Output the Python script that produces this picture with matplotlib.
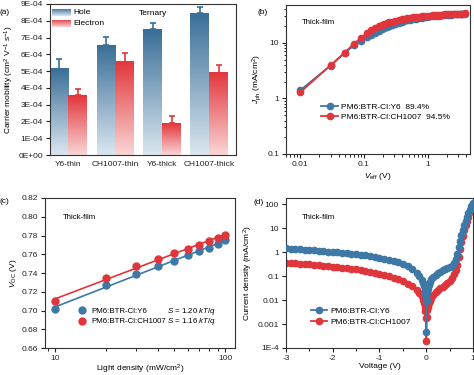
import numpy as np
import matplotlib
matplotlib.use("Agg")
import matplotlib.pyplot as plt
from matplotlib.colors import LinearSegmentedColormap

plt.rcParams['font.family'] = ['Liberation Sans', 'DejaVu Sans']
plt.rcParams['font.size'] = 6
plt.rcParams['mathtext.fontset'] = 'custom'
plt.rcParams['mathtext.rm'] = 'Liberation Sans'
plt.rcParams['mathtext.it'] = 'Liberation Sans:italic'
plt.rcParams['axes.linewidth'] = 0.8

BLUE = '#3d78a6'
RED = '#e0353b'
FS = 6

# ---------------- data ----------------
# (a)
categories = ['Y6-thin', 'CH1007-thin', 'Y6-thick', 'CH1007-thick']
hole = [5.15e-4, 6.55e-4, 7.5e-4, 8.45e-4]
hole_err = [0.55e-4, 0.5e-4, 0.35e-4, 0.35e-4]
electron = [3.55e-4, 5.55e-4, 1.9e-4, 4.9e-4]
electron_err = [0.4e-4, 0.5e-4, 0.42e-4, 0.45e-4]
a_yticks = [0, 1e-4, 2e-4, 3e-4, 4e-4, 5e-4, 6e-4, 7e-4, 8e-4, 9e-4]
a_yticklabels = ['0E+00', '1E-04', '2E-04', '3E-04', '4E-04', '5E-04', '6E-04', '7E-04', '8E-04', '9E-04']

# (b)
veff = [0.01, 0.03, 0.05, 0.07, 0.09, 0.11, 0.13, 0.15, 0.17, 0.19, 0.21, 0.23, 0.25, 0.28,
        0.31, 0.35, 0.39, 0.43, 0.48, 0.53, 0.59, 0.65, 0.72, 0.8, 0.89, 0.99, 1.1, 1.22,
        1.35, 1.5, 1.67, 1.85, 2.05, 2.3, 2.55, 2.85, 3.15, 3.5, 3.9]
jph_y6 = [1.4, 3.9, 6.6, 9.0, 10.8, 12.5, 14.0, 15.3, 16.4, 17.4, 18.3, 19.1, 19.8, 20.8,
          21.7, 22.8, 23.7, 24.5, 25.3, 26.0, 26.7, 27.3, 27.9, 28.5, 29.0, 29.5, 29.9, 30.3,
          30.6, 31.0, 31.3, 31.6, 31.9, 32.2, 32.5, 32.8, 33.0, 33.3, 33.5]
jph_ch = [1.28, 3.95, 6.7, 9.7, 12.3, 15.0, 17.0, 18.5, 19.8, 20.9, 21.8, 22.6, 23.3, 24.2,
          25.0, 25.9, 26.6, 27.2, 27.8, 28.3, 28.8, 29.2, 29.6, 30.0, 30.4, 30.7, 31.0, 31.3,
          31.6, 31.9, 32.2, 32.4, 32.6, 32.9, 33.1, 33.3, 33.5, 33.7, 33.9]

# (c)
light = [10, 20, 30, 40, 50, 60, 70, 80, 90, 100]
voc_y6 = [0.702, 0.727, 0.739, 0.747, 0.753, 0.759, 0.763, 0.767, 0.771, 0.775]
voc_ch = [0.710, 0.735, 0.747, 0.755, 0.761, 0.766, 0.770, 0.774, 0.777, 0.781]

# (d)
volt = [-3.0, -2.9, -2.8, -2.7, -2.6, -2.5, -2.4, -2.3, -2.2, -2.1, -2.0, -1.9, -1.8, -1.7,
        -1.6, -1.5, -1.4, -1.3, -1.2, -1.1, -1.0, -0.9, -0.8, -0.7, -0.6, -0.5, -0.4, -0.3,
        -0.2, -0.15, -0.1, -0.07, -0.05, -0.03, -0.02, -0.01, 0.0, 0.01, 0.02, 0.03, 0.05,
        0.07, 0.1, 0.15, 0.2, 0.25, 0.3, 0.35, 0.4, 0.45, 0.5, 0.55, 0.6, 0.63, 0.66, 0.69,
        0.72, 0.75, 0.78, 0.81, 0.84, 0.87, 0.9, 0.93, 0.96, 0.99]
jd_y6 = [1.40, 1.36, 1.32, 1.28, 1.24, 1.20, 1.16, 1.12, 1.08, 1.04, 1.00, 0.96, 0.92, 0.88,
         0.84, 0.80, 0.76, 0.72, 0.68, 0.63, 0.58, 0.53, 0.48, 0.43, 0.37, 0.31, 0.25, 0.19,
         0.13, 0.10, 0.07, 0.05, 0.038, 0.026, 0.018, 0.009, 0.00045, 0.010, 0.020, 0.029, 0.042,
         0.055, 0.072, 0.095, 0.115, 0.135, 0.15, 0.17, 0.19, 0.21, 0.235, 0.27, 0.36, 0.5, 0.85, 1.6,
         3.0, 5.2, 8.5, 13, 20, 29, 41, 58, 82, 115]
jd_ch = [0.36, 0.35, 0.34, 0.33, 0.32, 0.31, 0.295, 0.28, 0.265, 0.25, 0.24, 0.23, 0.22, 0.21,
         0.20, 0.19, 0.18, 0.165, 0.15, 0.135, 0.12, 0.108, 0.096, 0.084, 0.072, 0.06, 0.048, 0.037,
         0.026, 0.02, 0.014, 0.01, 0.0075, 0.005, 0.0035, 0.0018, 0.0002, 0.002, 0.0038, 0.0052, 0.0075,
         0.0095, 0.012, 0.016, 0.021, 0.026, 0.031, 0.036, 0.043, 0.052, 0.063, 0.08, 0.12, 0.18, 0.3, 0.6,
         1.3, 2.6, 4.8, 8.0, 13, 20, 30, 45, 68, 100]

# ---------------- figure ----------------
W, H = 474, 375
fig = plt.figure(figsize=(W / 100, H / 100), dpi=100)


def ax_px(l, t, r, b):
    return fig.add_axes([l / W, 1 - b / H, (r - l) / W, (b - t) / H])


def style(ax):
    for s in ax.spines.values():
        s.set_color('#333333')
        s.set_linewidth(0.8)
    ax.tick_params(direction='out', length=3, width=0.8, labelsize=FS, pad=2, colors='#222222')
    ax.tick_params(which='minor', length=1.8, width=0.6)


# ---- (a) ----
axa = ax_px(50, 4, 236, 155)
style(axa)
cmap_h = LinearSegmentedColormap.from_list('h', ['#dbe7f0', '#3a6e97'])
cmap_e = LinearSegmentedColormap.from_list('e', ['#fad6d6', '#e2363c'])
grad = np.linspace(0, 1, 256).reshape(-1, 1)
x = np.arange(len(categories))
bw = 0.4
bh = axa.bar(x - bw / 2, hole, bw, color='none', edgecolor='none')
be = axa.bar(x + bw / 2, electron, bw, color='none', edgecolor='none')
for bars, cm in ((bh, cmap_h), (be, cmap_e)):
    for p in bars:
        x0, y0 = p.get_x(), p.get_y()
        axa.imshow(grad, extent=[x0, x0 + p.get_width(), y0, y0 + p.get_height()],
                   origin='lower', aspect='auto', cmap=cm, zorder=2)
axa.errorbar(x - bw / 2, hole, yerr=[np.zeros(4), hole_err], fmt='none', ecolor='#3a6e97',
             elinewidth=1.2, capsize=2.5, capthick=1.2, zorder=1)
axa.errorbar(x + bw / 2, electron, yerr=[np.zeros(4), electron_err], fmt='none', ecolor='#e2363c',
             elinewidth=1.2, capsize=2.5, capthick=1.2, zorder=1)
axa.set_xlim(-0.39, 3.57)
axa.set_ylim(0, 9e-4)
axa.set_yticks(a_yticks)
axa.set_yticklabels(a_yticklabels)
axa.set_xticks(x)
axa.set_xticklabels(categories, fontsize=FS)
axa.tick_params(axis='x', length=0, pad=4)
axa.set_ylabel('Carrier mobility (cm$^2$ V$^{-1}$ s$^{-1}$)', fontsize=FS, labelpad=2)
# gradient legend swatches
for i, (cm, lab) in enumerate(((cmap_h, 'Hole'), (cmap_e, 'Electron'))):
    sw = axa.inset_axes([0.01, 0.92 - i * 0.073, 0.1, 0.047])
    sw.imshow(grad, origin='lower', aspect='auto', cmap=cm, extent=[0, 1, 0, 1])
    sw.set_axis_off()
    axa.text(0.125, 0.943 - i * 0.073, lab, transform=axa.transAxes, fontsize=FS, va='center')
axa.text(0.48, 0.94, 'Ternary', transform=axa.transAxes, fontsize=FS, va='center')
fig.text(0 / W, 1 - 12 / H, '(a)', fontsize=FS, va='center')

# ---- (b) ----
axb = ax_px(286, 5, 470, 154)
style(axb)
axb.plot(veff, jph_y6, '-o', color=BLUE, ms=4.5, lw=1.3, label='PM6:BTR-Cl:Y6  89.4%')
axb.plot(veff, jph_ch, '-o', color=RED, ms=4.5, lw=1.3, label='PM6:BTR-Cl:CH1007  94.5%')
axb.set_xscale('log')
axb.set_yscale('log')
axb.set_xlim(0.006, 4.6)
axb.set_ylim(0.1, 48)
axb.set_xticks([0.01, 0.1, 1])
axb.set_xticklabels(['0.01', '0.1', '1'])
axb.set_yticks([0.1, 1, 10])
axb.set_yticklabels(['0.1', '1', '10'])
axb.set_xlabel('$V_{\\mathrm{eff}}$ (V)', fontsize=FS, labelpad=2)
axb.set_ylabel('$J_{\\mathrm{ph}}$ (mA/cm$^2$)', fontsize=FS, labelpad=2)
axb.text(0.087, 0.88, 'Thick-film', transform=axb.transAxes, fontsize=5.6, va='center')
axb.legend(loc='center left', bbox_to_anchor=(0.17, 0.28), frameon=False, fontsize=FS,
           handlelength=2.0, handletextpad=0.4, labelspacing=0.3, borderpad=0)
fig.text(257 / W, 1 - 12 / H, '(b)', fontsize=FS, va='center')

# ---- (c) ----
axc = ax_px(45, 198, 235, 348)
style(axc)
lx = np.log10(light)
for yv, c in ((voc_y6, BLUE), (voc_ch, RED)):
    k, b0 = np.polyfit(lx, yv, 1)
    xx = np.array([light[0], light[-1]])
    axc.plot(xx, k * np.log10(xx) + b0, '-', color=c, lw=1.2, zorder=2)
axc.plot(light, voc_y6, 'o', color=BLUE, ms=5, zorder=3, label='PM6:BTR-Cl:Y6')
axc.plot(light, voc_ch, 'o', color=RED, ms=5, zorder=3, label='PM6:BTR-Cl:CH1007')
axc.set_xscale('log')
axc.set_xlim(8.7, 114)
axc.set_ylim(0.66, 0.82)
axc.set_xticks([10, 100])
axc.set_xticklabels(['10', '100'])
axc.set_yticks(np.round(np.arange(0.66, 0.8201, 0.02), 2))
axc.set_yticklabels(['%.2f' % v for v in np.arange(0.66, 0.8201, 0.02)])
axc.set_xlabel('Light density (mW/cm$^2$)', fontsize=FS, labelpad=0.5)
axc.set_ylabel('$V_{\\mathrm{OC}}$ (V)', fontsize=FS, labelpad=2)
axc.text(0.095, 0.87, 'Thick-film', transform=axc.transAxes, fontsize=5.6, va='center')
axc.legend(loc='center left', bbox_to_anchor=(0.155, 0.21), frameon=False, fontsize=5.7,
           handlelength=1.0, handletextpad=0.7, labelspacing=0.35, borderpad=0)
axc.text(0.64, 0.245, '$S$ = 1.20 $kT$/$q$', transform=axc.transAxes, fontsize=5.7, va='center')
axc.text(0.64, 0.178, '$S$ = 1.16 $kT$/$q$', transform=axc.transAxes, fontsize=5.7, va='center')
fig.text(0 / W, 1 - 202 / H, '(c)', fontsize=FS, va='center')

# ---- (d) ----
axd = ax_px(286, 198, 473, 348)
style(axd)
axd.plot(volt, jd_ch, '-o', color=RED, ms=4.5, lw=1.3, label='PM6:BTR-Cl:CH1007', zorder=2)
axd.plot(volt, jd_y6, '-o', color=BLUE, ms=4.5, lw=1.3, label='PM6:BTR-Cl:Y6', zorder=3)
axd.set_yscale('log')
axd.set_xlim(-3, 1)
axd.set_ylim(1e-4, 178)
axd.set_xticks([-3, -2, -1, 0, 1])
axd.set_xticklabels(['-3', '-2', '-1', '0', '1'])
axd.set_yticks([1e-4, 1e-3, 1e-2, 0.1, 1, 10, 100])
axd.set_yticklabels(['1E-4', '0.001', '0.01', '0.1', '1', '10', '100'])
axd.minorticks_off()
axd.set_xticks([-2.5, -1.5, -0.5, 0.5], minor=True)
axd.set_xlabel('Voltage (V)', fontsize=FS, labelpad=1)
axd.set_ylabel('Current density (mA/cm$^2$)', fontsize=FS, labelpad=2)
axd.text(0.085, 0.87, 'Thick-film', transform=axd.transAxes, fontsize=5.6, va='center')
h_, l_ = axd.get_legend_handles_labels()
axd.legend(h_[::-1], l_[::-1], loc='center left', bbox_to_anchor=(0.11, 0.21), frameon=False,
           fontsize=FS, handlelength=2.0, handletextpad=0.4, labelspacing=0.3, borderpad=0)
fig.text(254 / W, 1 - 203 / H, '(d)', fontsize=FS, va='center')

fig.savefig('out.png', dpi=100)
